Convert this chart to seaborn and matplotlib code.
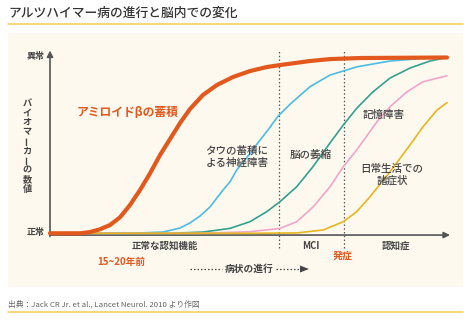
import matplotlib
matplotlib.use("Agg")
import matplotlib.pyplot as plt
import seaborn as sns
import numpy as np
import pandas as pd
from matplotlib.patches import Rectangle, Polygon
from matplotlib.lines import Line2D

# ---------------- data (x: time scale 0-400, y: biomarker level 0-100) ----------------
amyloid_x = [0, 30, 40, 50, 60, 70, 80, 90, 100, 110, 120, 130, 140, 153, 167, 183,
             200, 217, 230, 247, 260, 280, 310, 397]
amyloid_y = [0, 0, 0.7, 2.3, 4.7, 9.1, 16.1, 24.6, 34.1, 44.5, 53.6, 62.7, 70.7, 78.7,
             84.4, 88.9, 92.3, 94.6, 95.7, 97.0, 98.0, 99.1, 99.7, 100]

tau_x = [0, 80, 113, 130, 140, 150, 160, 173, 180, 186.7, 195, 207, 218, 228, 240,
         260, 280, 307, 340, 373, 397]
tau_y = [0, 0, 0.7, 3.0, 5.9, 9.8, 15.0, 24.6, 29.3, 36.0, 41.7, 50.8, 58.8, 66.6, 73.4,
         83.4, 90.0, 94.7, 98.0, 99.5, 100]

atrophy_x = [0, 120, 153, 180, 200, 216.7, 230, 246.7, 263, 280, 293.3, 307, 323, 340,
             360, 380, 397]
atrophy_y = [0, 0, 0.7, 2.8, 6.6, 12.3, 18.0, 26.5, 37.9, 51.4, 61.6, 71.3, 80.5, 88.3,
             94.0, 98.0, 100]

memory_x = [0, 150, 200, 230, 246.7, 263.3, 280, 293.3, 306.7, 327, 340, 357, 373, 397]
memory_y = [0, 0, 0.9, 2.8, 6.6, 15.1, 26.5, 37.9, 47.4, 63.5, 72.0, 80.5, 86.2, 89.6]

daily_x = [0, 200, 246.7, 273.3, 293.3, 306.7, 320, 333.3, 340, 360, 373, 387, 397]
daily_y = [0, 0, 0.2, 1.9, 6.6, 12.3, 20.8, 30.3, 35.0, 50.2, 60.6, 70.1, 74.3]

stage_bounds = [229, 294]

title = "アルツハイマー病の進行と脳内での変化"
ylabel = "バイオマーカーの数値"
source = "出典：Jack CR Jr. et al., Lancet Neurol. 2010 より作図"

# ---------------- style ----------------
sns.set_theme(style="white")
plt.rcParams['font.family'] = ['Noto Sans CJK JP', 'DejaVu Sans']

W, H = 474, 322
fig = plt.figure(figsize=(W / 100, H / 100), dpi=100)
fig.patch.set_facecolor('white')

def fx(px):
    return px / W

def fy(py):
    return 1 - py / H

def ftext(px, py, s, **kw):
    fig.text(fx(px), fy(py), s, **kw)

GRAY = "#444444"
AXC = "#555555"
ORANGE = "#e2581d"
YEL_RULE = "#f6d769"

# panel background
fig.patches.append(Rectangle((fx(8), fy(287)), fx(463) - fx(8), fy(33) - fy(287),
                             transform=fig.transFigure, facecolor="#fdf9ee",
                             edgecolor="none", zorder=-5))
# rules
fig.lines.append(Line2D([fx(8), fx(463)], [fy(24), fy(24)], transform=fig.transFigure,
                        color=YEL_RULE, lw=1.3))
fig.lines.append(Line2D([fx(8), fx(463)], [fy(312), fy(312)], transform=fig.transFigure,
                        color=YEL_RULE, lw=1.3))

ftext(8, 13, title, ha="left", va="center", fontsize=9.2, color="#333333", fontweight="medium")
ftext(8, 304, source, ha="left", va="center", fontsize=5.6, color="#666666")

ax = fig.add_axes([fx(50), fy(233.3), 400 / W, 175.8 / H])
ax.set_xlim(0, 400)
ax.set_ylim(0, 100)
ax.set_axis_off()
ax.set_zorder(2)

# axes with arrows
ax.annotate("", xy=(400, -1), xytext=(0, -1), xycoords="data",
            arrowprops=dict(arrowstyle="-|>", color=AXC, lw=1.2, mutation_scale=9,
                            shrinkA=0, shrinkB=0), annotation_clip=False)
ax.annotate("", xy=(0, 104), xytext=(0, -1.8), xycoords="data",
            arrowprops=dict(arrowstyle="-|>", color=AXC, lw=1.2, mutation_scale=9,
                            shrinkA=0, shrinkB=0), annotation_clip=False)

# stage boundaries
for b in stage_bounds:
    ax.plot([b, b], [-8.5, 104], color=AXC, lw=0.9, ls=(0, (1.2, 1.8)), clip_on=False, zorder=1)

# curves
series = [
    (tau_x, tau_y, "#4dbbe3"),
    (atrophy_x, atrophy_y, "#34a08f"),
    (memory_x, memory_y, "#f1a5cb"),
    (daily_x, daily_y, "#e8b51e"),
]
for xs, ys, c in series:
    sns.lineplot(x=xs, y=ys, color=c, linewidth=1.2, ax=ax, clip_on=False, zorder=3,
                 solid_joinstyle="round")
sns.lineplot(x=amyloid_x, y=amyloid_y, color=ORANGE, linewidth=3.0, ax=ax,
             clip_on=False, zorder=4, solid_capstyle="round", solid_joinstyle="round")

# y-end labels
ftext(45, 57, "異常", ha="right", va="center", fontsize=6.5, color=GRAY, fontweight="bold")
ftext(45, 233, "正常", ha="right", va="center", fontsize=6.5, color=GRAY, fontweight="bold")

# vertical y-label
y0 = 103
for i, ch in enumerate(ylabel):
    rot = 90 if ch == "ー" else 0
    ftext(27, y0 + i * 9.6, ch, ha="center", va="center", fontsize=6.6, color=GRAY,
          fontweight="bold", rotation=rot)

# curve labels
ftext(128, 113, "アミロイドβの蓄積", ha="center", va="center", fontsize=8.5,
      color=ORANGE, fontweight="bold")
ftext(237, 157, "タウの蓄積に\nよる神経障害", ha="center", va="center", fontsize=7.6,
      color=GRAY, fontweight="medium", linespacing=1.15)
ftext(311, 155, "脳の萎縮", ha="center", va="center", fontsize=7.6, color=GRAY, fontweight="medium")
ftext(384, 115, "記憶障害", ha="center", va="center", fontsize=7.6, color=GRAY, fontweight="medium")
ftext(392, 175, "日常生活での\n諸症状", ha="center", va="center", fontsize=7.6,
      color=GRAY, fontweight="medium", linespacing=1.15)

# stage labels
ftext(165, 246, "正常な認知機能", ha="center", va="center", fontsize=6.8, color=GRAY, fontweight="bold")
ftext(311, 246, "MCI", ha="center", va="center", fontsize=6.8, color=GRAY, fontweight="bold")
ftext(396, 246, "認知症", ha="center", va="center", fontsize=6.8, color=GRAY, fontweight="bold")
ftext(121, 262, "15~20年前", ha="center", va="center", fontsize=7.0, color=ORANGE, fontweight="bold")
ftext(343, 256, "発症", ha="center", va="center", fontsize=7.2, color=ORANGE, fontweight="bold")

# progression arrow
ftext(249, 269, "病状の進行", ha="center", va="center", fontsize=7.0, color=GRAY, fontweight="bold")
for a, b in [(190, 222), (276, 300)]:
    fig.lines.append(Line2D([fx(a), fx(b)], [fy(269), fy(269)], transform=fig.transFigure,
                            color=GRAY, lw=0.9, ls=(0, (1.2, 1.6))))
fig.patches.append(Polygon([(fx(300), fy(265.5)), (fx(300), fy(272.5)), (fx(309), fy(269))],
                           closed=True, transform=fig.transFigure, facecolor=GRAY,
                           edgecolor="none"))

fig.savefig("out.png", dpi=100, facecolor=fig.get_facecolor())
